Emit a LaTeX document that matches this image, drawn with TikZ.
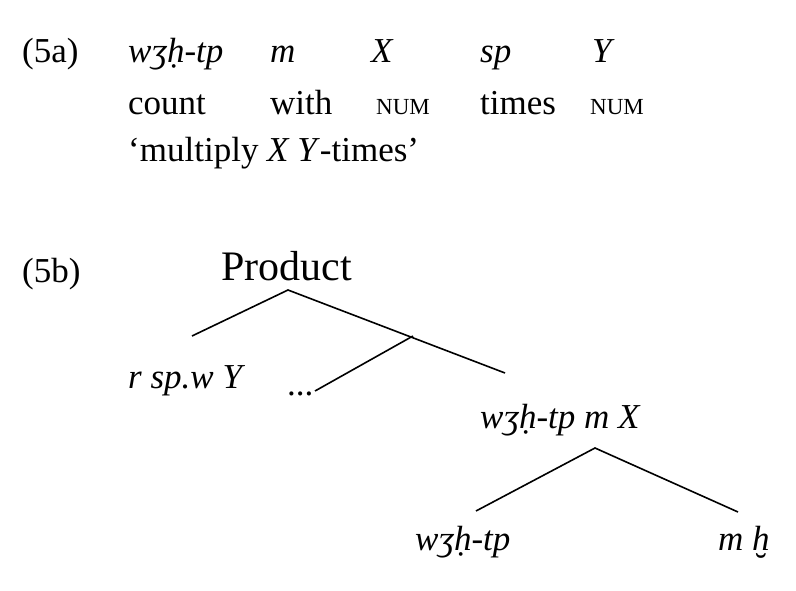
\documentclass[tikz,border=0pt]{standalone}
\usepackage{fontspec}
\setmainfont{Liberation Serif}
\newcommand{\alef}{ʒ}
\newcommand{\hbr}{{\setbox0\hbox{h}\rlap{h}\makebox[\wd0]{\raisebox{-0.78em}[0pt][0pt]{\upshape\char"02D8}}}}
\newcommand{\nm}{{\fontsize{23}{25}\selectfont NUM}}
\begin{document}
\begin{tikzpicture}[x=1pt,y=-1pt, t/.style={anchor=base west,inner sep=0pt,font=\fontsize{35}{38}\selectfont}, ln/.style={line width=1.6pt}]
\useasboundingbox (0,0) rectangle (796,591);
\node[t] (a5) at (22,63) {(5a)};
\node[t] (a1) at (128,63) {\itshape w\alef ḥ-tp};
\node[t] (a2) at (270,63) {\itshape m};
\node[t] (a3) at (371,63) {\itshape X};
\node[t] (a4) at (480,63) {\itshape sp};
\node[t] (a6) at (592,63) {\itshape Y};
\node[t] (b1) at (128,115) {count};
\node[t] (b2) at (270,115) {with};
\node[t] (b3) at (376,115) {\nm};
\node[t] (b4) at (480,115) {times};
\node[t] (b5) at (590,115) {\nm};
\node[t] (c1) at (128,162) {‘multiply \textit{X Y}-times’};
\node[t] (b5b) at (22,282) {(5b)};
\node[t,font=\fontsize{42}{45}\selectfont] (prod) at (221,280) {Product};
\node[t] (rsp) at (128,388) {\itshape r sp.w Y};
\node[t] (dots) at (287,395) {...};
\node[t] (wmx) at (480,428) {\itshape w\alef ḥ-tp m X};
\node[t] (wt) at (415,550) {\itshape w\alef ḥ-tp};
\node[t] (mh) at (718,550) {\itshape m \hbr};
\coordinate (p0) at (288,290);
\coordinate (p1) at (192,336);
\coordinate (p2) at (505,373);
\coordinate (m0) at (413,336);
\coordinate (m1) at (315,391);
\coordinate (q0) at (595,448);
\coordinate (q1) at (476,511);
\coordinate (q2) at (738,512);
\draw[ln] (p1) -- (p0) -- (p2);
\draw[ln] (m0) -- (m1);
\draw[ln] (q1) -- (q0) -- (q2);
\end{tikzpicture}
\end{document}
